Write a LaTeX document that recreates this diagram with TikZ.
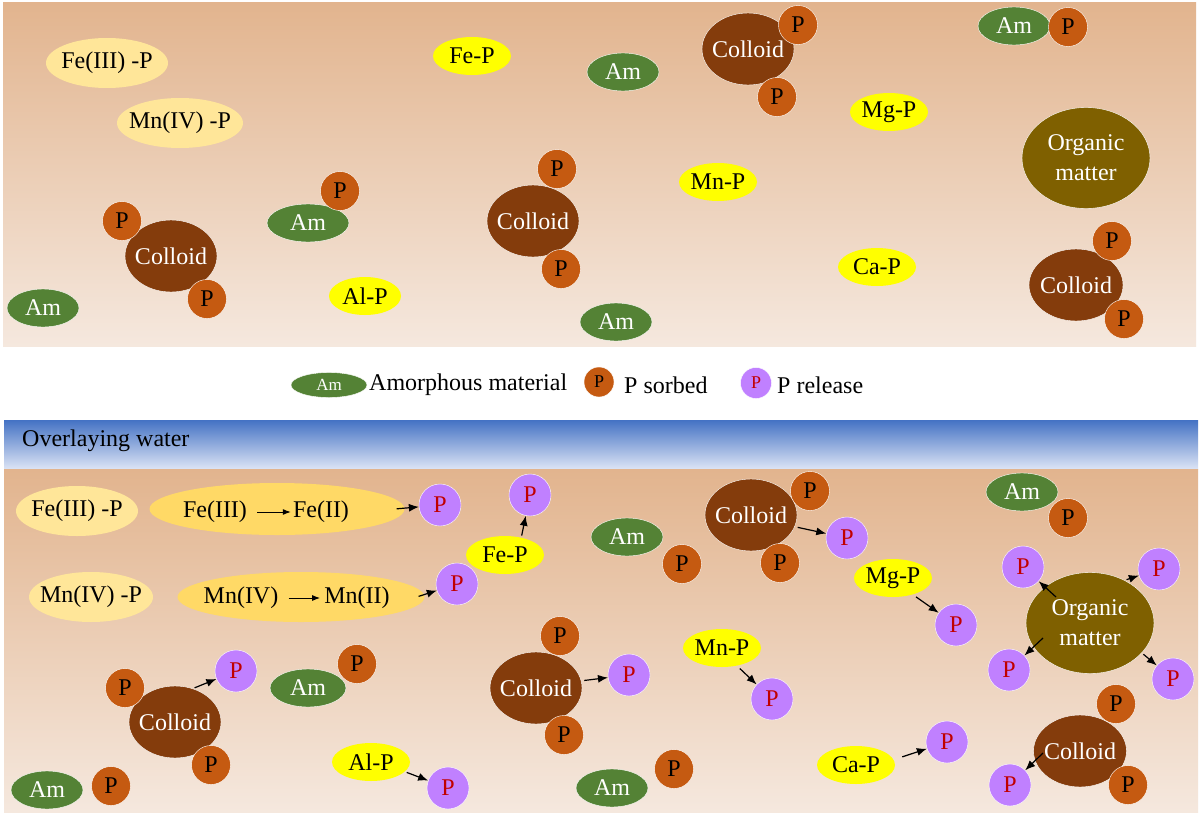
\documentclass[tikz,border=0pt]{standalone}
\usepackage{fontspec}
\setmainfont{Liberation Serif}
\usetikzlibrary{shapes.geometric,arrows.meta}
\definecolor{tantop}{RGB}{226,180,142}
\definecolor{tanbot}{RGB}{245,232,222}
\definecolor{bandtop}{RGB}{68,114,196}
\definecolor{bandbot}{RGB}{220,228,245}
\definecolor{amgreen}{RGB}{84,130,53}
\definecolor{sorbc}{RGB}{197,90,17}
\definecolor{cldc}{RGB}{132,60,12}
\definecolor{ormc}{RGB}{127,96,0}
\definecolor{relc}{RGB}{192,128,255}
\definecolor{relp}{RGB}{192,0,0}
\definecolor{oxyel}{RGB}{255,230,153}
\definecolor{rdxgold}{RGB}{255,217,102}
\definecolor{metyel}{RGB}{255,255,0}

\begin{document}
\begin{tikzpicture}[x=1pt, y=-1pt,
  lbl/.style={font=\fontsize{24}{30}\selectfont},
  amb/.style={ellipse, fill=amgreen, draw=white, line width=0.4pt, text=white, minimum width=72pt, minimum height=38pt, inner sep=0pt, lbl},
  psb/.style={circle, fill=sorbc, draw=white, line width=0.4pt, minimum size=39pt, inner sep=0pt, lbl},
  prl/.style={circle, fill=relc, draw=white, line width=0.4pt, text=relp, minimum size=42pt, inner sep=0pt, lbl},
  cld/.style={ellipse, fill=cldc, draw=white, line width=0.4pt, text=white, minimum width=92pt, minimum height=72pt, inner xsep=-14pt, inner ysep=0pt, lbl},
  orm/.style={ellipse, fill=ormc, draw=white, line width=0.4pt, text=white, minimum width=128pt, minimum height=101pt, inner xsep=-6pt, inner ysep=0pt, align=center, lbl},
  metp/.style={ellipse, fill=metyel, minimum width=78pt, minimum height=38pt, inner sep=0pt, lbl},
  oxp/.style={ellipse, fill=oxyel, minimum width=122pt, minimum height=50pt, inner xsep=-14pt, inner ysep=0pt, lbl},
  rdx/.style={ellipse, fill=rdxgold, minimum height=52pt, inner sep=0pt},
  txt/.style={inner sep=1pt, lbl},
  flow/.style={-{Latex[length=10pt,width=8pt]}, line width=1.2pt, shorten <=2pt},
  conv/.style={-{Latex[length=8pt,width=6pt]}, line width=1pt}]
\useasboundingbox (0,0) rectangle (1200,814);
\fill[white] (0,0) rectangle (1200,814);
\shade[top color=tantop, bottom color=tanbot] (3,2) rectangle (1196,346);
\shade[top color=bandtop, bottom color=bandbot] (4,420) rectangle (1198,469);
\shade[top color=tantop, bottom color=tanbot] (4,469) rectangle (1198,812);

\node[oxp] (t_fe3p) at (107,63) {Fe(III) -P};
\node[oxp, minimum width=126pt] (t_mn4p) at (180,123) {Mn(IV) -P};
\node[metp] (t_fep) at (472,56) {Fe-P};
\node[amb] (t_amA) at (623,72) {Am};
\node[cld] (t_col1) at (748,49) {Colloid};
\node[psb] (t_p1) at (798,25) {P};
\node[psb] (t_p2) at (777,97) {P};
\node[amb] (t_amB) at (1014,26) {Am};
\node[psb] (t_p3) at (1068,27) {P};
\node[metp] (t_mgp) at (889,112) {Mg-P};
\node[orm] (t_om) at (1086,158) {Organic\\matter};
\node[metp] (t_mnp) at (718,182) {Mn-P};
\node[cld] (t_col2) at (533,221) {Colloid};
\node[psb] (t_p4) at (557,169) {P};
\node[psb] (t_p5) at (561,269) {P};
\node[cld] (t_col3) at (171,256) {Colloid};
\node[psb] (t_p6) at (122,221) {P};
\node[psb] (t_p7) at (207,299) {P};
\node[amb, minimum width=82pt] (t_amC) at (308,223) {Am};
\node[psb] (t_p8) at (340,191) {P};
\node[amb] (t_amD) at (43,308) {Am};
\node[metp, minimum width=72pt] (t_alp) at (365,296) {Al-P};
\node[amb] (t_amE) at (616,322) {Am};
\node[metp] (t_cap) at (877,267) {Ca-P};
\node[cld, minimum width=94pt] (t_col4) at (1076,285) {Colloid};
\node[psb] (t_p9) at (1112,241) {P};
\node[psb] (t_p10) at (1124,319) {P};

\node[amb, minimum width=76pt, minimum height=25pt, inner ysep=-3pt, font=\fontsize{17}{19}\selectfont] (lg_am) at (329,385) {Am};
\node[txt, anchor=west] (lg_amt) at (368,385) {Amorphous material};
\node[psb, minimum size=30pt, font=\fontsize{18}{20}\selectfont] (lg_ps) at (599,382) {P};
\node[txt, anchor=west] (lg_pst) at (623,385) {P sorbed};
\node[prl, minimum size=31pt, font=\fontsize{18}{20}\selectfont] (lg_pr) at (756,383) {P};
\node[txt, anchor=west] (lg_prt) at (776,385) {P release};

\node[txt, anchor=west] (band) at (21,441) {Overlaying water};

\node[oxp] (b_fe3p) at (77,511) {Fe(III) -P};
\node[rdx, minimum width=255pt] (b_fered) at (277,509) {};
\node[txt] (b_fe3) at (215,512) {Fe(III)};
\node[txt] (b_fe2) at (321,512) {Fe(II)};
\node[prl] (b_pr1) at (440,505) {P};
\node[oxp, minimum width=124pt] (b_mn4p) at (91,597) {Mn(IV) -P};
\node[rdx, minimum width=247pt, minimum height=50pt] (b_mnred) at (301,597) {};
\node[txt] (b_mn4) at (241,598) {Mn(IV)};
\node[txt] (b_mn2) at (357,598) {Mn(II)};
\node[prl] (b_pr2) at (457,584) {P};
\node[metp] (b_fep) at (505,555) {Fe-P};
\node[prl] (b_pr3) at (530,495) {P};

\node[cld] (b_col1) at (175,722) {Colloid};
\node[psb] (b_p1) at (125,688) {P};
\node[psb] (b_p2) at (211,765) {P};
\node[prl] (b_pr4) at (236,671) {P};
\node[amb, minimum width=76pt] (b_amA) at (308,688) {Am};
\node[psb] (b_p3) at (357,664) {P};
\node[amb] (b_amB) at (47,790) {Am};
\node[psb] (b_p4) at (111,786) {P};
\node[metp] (b_alp) at (371,762) {Al-P};
\node[prl] (b_pr5) at (448,788) {P};
\node[cld] (b_col2) at (536,688) {Colloid};
\node[psb] (b_p5) at (560,636) {P};
\node[psb] (b_p6) at (564,735) {P};
\node[prl] (b_pr6) at (629,675) {P};
\node[cld] (b_col3) at (751,515) {Colloid};
\node[psb] (b_p7) at (810,491) {P};
\node[psb] (b_p8) at (780,563) {P};
\node[prl] (b_pr7) at (847,538) {P};
\node[amb] (b_amC) at (627,537) {Am};
\node[psb] (b_p9) at (682,564) {P};
\node[metp] (b_mgp) at (893,578) {Mg-P};
\node[prl] (b_pr8) at (956,625) {P};
\node[metp] (b_mnp) at (722,648) {Mn-P};
\node[prl] (b_pr9) at (772,699) {P};
\node[amb] (b_amD) at (612,788) {Am};
\node[psb] (b_p10) at (674,769) {P};
\node[metp] (b_cap) at (856,765) {Ca-P};
\node[prl] (b_pr10) at (947,742) {P};
\node[amb] (b_amE) at (1022,492) {Am};
\node[psb] (b_p11) at (1068,518) {P};
\node[orm] (b_om) at (1090,623) {Organic\\matter};
\node[prl] (b_pr11) at (1023,567) {P};
\node[prl] (b_pr12) at (1159,569) {P};
\node[prl] (b_pr13) at (1009,670) {P};
\node[prl] (b_pr14) at (1173,679) {P};
\node[cld, minimum width=93pt] (b_col4) at (1080,751) {Colloid};
\node[psb] (b_p12) at (1116,704) {P};
\node[psb] (b_p13) at (1128,785) {P};
\node[prl] (b_pr15) at (1010,785) {P};

\draw[conv, shorten <=9pt, shorten >=1pt] (b_fe3) -- (b_fe2);
\draw[conv, shorten <=9pt, shorten >=3pt] (b_mn4) -- (b_mn2);
\draw[flow] ([xshift=-10pt]b_fered.east) -- (b_pr1);
\draw[flow] ([xshift=-8pt]b_mnred.east) -- (b_pr2);
\draw[flow] (b_fep.47) -- (b_pr3);
\draw[flow] (b_col1.62) -- (b_pr4);
\draw[flow] (b_alp.-16) -- (b_pr5);
\draw[flow, shorten <=3pt] (b_col2.9) -- (b_pr6);
\draw[flow, shorten <=3pt] (b_col3.-15) -- (b_pr7);
\draw[flow, shorten <=4pt] (b_mgp.-40) -- (b_pr8);
\draw[flow, shorten <=4pt] (b_mnp.-50) -- (b_pr9);
\draw[flow, shorten <=9pt] (b_cap.8) -- (b_pr10);
\draw[flow, shorten <=0pt] ([shift={(-34,-26)}]b_om.center) -- (b_pr11);
\draw[flow] (b_om.51) -- (b_pr12);
\draw[flow, shorten <=0pt] ([shift={(-47,15)}]b_om.center) -- (b_pr13);
\draw[flow] (b_om.-30) -- (b_pr14);
\draw[flow, shorten <=0pt] ([shift={(-37,2)}]b_col4.center) -- (b_pr15);
\end{tikzpicture}
\end{document}
